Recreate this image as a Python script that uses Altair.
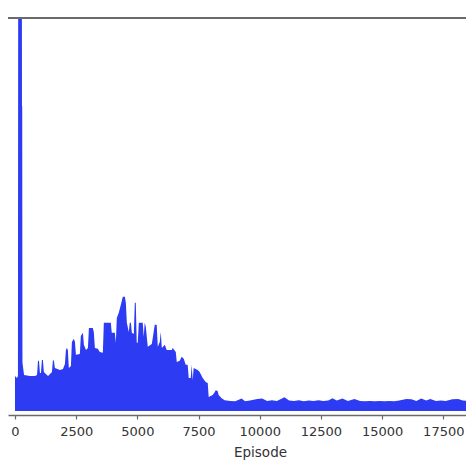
import altair as alt
import pandas as pd

# Envelope of the (dense, oscillating) training curve
EPISODES = [
    0, 80, 120, 140, 270, 285, 295, 305, 370, 610, 815, 900, 940, 980, 1020, 1060,
    1100, 1140, 1180, 1350, 1510, 1550, 1590, 1630, 1835, 1960, 2040, 2080, 2120,
    2160, 2200, 2285, 2325, 2405, 2450, 2490, 2650, 2690, 2775, 2815, 2900, 2980,
    3020, 3180, 3220, 3265, 3385, 3465, 3590, 3630, 3915, 3955, 4080, 4120, 4160,
    4240, 4325, 4405, 4490, 4530, 4570, 4650, 4690, 4735, 4775, 4855, 4895, 4935,
    4975, 5015, 5060, 5220, 5260, 5300, 5345, 5425, 5590, 5710, 5790, 5835, 5915,
    5955, 6000, 6120, 6200, 6405, 6445, 6570, 6610, 6730, 6810, 6895, 6975, 7055,
    7100, 7180, 7220, 7260, 7300, 7465, 7545, 7670, 7790, 7875, 7915, 8075, 8160,
    8200, 8280, 8320, 8445, 8565,
    8800, 9000, 9260, 9400, 9600, 9900, 10100, 10300, 10500, 10700, 10930, 11010,
    11200, 11400, 11600, 11800, 12000, 12200, 12400, 12600, 12800, 12970, 13150,
    13380, 13600, 13870, 14100, 14300, 14500, 14700, 14900, 15100, 15300, 15500,
    15700, 15990, 16200, 16400, 16600, 16800, 16970, 17200, 17400, 17600, 17870,
    18110, 18300, 18500,
]
ENVELOPE = [
    87, 82, 87, 2000, 2000, 760, 760, 120, 90, 87, 87, 90, 125, 125, 95, 95,
    127, 127, 97, 87, 97, 127, 125, 107, 102, 105, 117, 152, 157,
    152, 107, 112, 172, 180, 172, 140, 142, 187, 195, 165, 152, 157,
    207, 207, 197, 157, 155, 147, 145, 220, 220, 195, 195, 170, 232,
    245, 265, 285, 285, 270, 220, 197, 220, 220, 195, 192, 270, 270,
    170, 170, 220, 220, 185, 220, 210, 160, 167, 215, 215, 160, 172,
    197, 157, 165, 152, 152, 157, 147, 122, 125, 135, 130, 115, 115,
    82, 82, 115, 77, 107, 102, 97, 82, 72, 70, 35, 40, 47,
    52, 50, 40, 32, 27,
    25, 24, 31, 24, 26, 30, 31, 25, 27, 25, 32, 34,
    26, 25, 27, 24, 26, 25, 27, 25, 26, 32, 26,
    31, 25, 30, 25, 24, 25, 24, 25, 24, 25, 24,
    26, 30, 29, 25, 31, 26, 30, 25, 26, 25, 29,
    30, 26, 25,
]
FLOOR = 0
X_TICKS = [0, 2500, 5000, 7500, 10000, 12500, 15000, 17500]
X_DOMAIN = [-286, 18428]
Y_DOMAIN = [-10, 980]

df = pd.DataFrame({"Episode": EPISODES, "value": ENVELOPE})

W, H = 458, 397
BLUE = "#2d3cf2"
GRAY = "#6a6a6a"

area = alt.Chart(df).mark_area(color=BLUE, clip=True, opacity=1).encode(
    x=alt.X(
        "Episode:Q",
        scale=alt.Scale(domain=X_DOMAIN, nice=False, zero=False),
        axis=alt.Axis(
            values=X_TICKS, format="d", grid=False, title="Episode",
            labelFont="DejaVu Sans", labelFontSize=13, labelColor="#333333",
            labelPadding=6, labelFlush=False, labelOverlap=False,
            tickSize=4, tickColor=GRAY, tickWidth=1.2,
            domainColor=GRAY, domainWidth=1.6,
            titleFont="DejaVu Sans", titleFontSize=13.5, titleFontWeight="normal",
            titleColor="#333333", titleX=252, titleY=41,
            titleBaseline="alphabetic", titleAlign="center",
        ),
    ),
    y=alt.Y("value:Q", scale=alt.Scale(domain=Y_DOMAIN, nice=False, zero=False), axis=None),
    y2=alt.datum(FLOOR),
)

top = alt.Chart(pd.DataFrame({"k": [0]})).mark_rule(color=GRAY, strokeWidth=2).encode(
    x=alt.value(0), x2=alt.value(W), y=alt.value(0)
)

chart = alt.layer(area, top).properties(
    width=W, height=H,
    background="white",
    autosize=alt.AutoSizeParams(type="none"),
    padding={"left": 0, "top": 10, "right": 0, "bottom": 51},
).configure_view(stroke="transparent", strokeWidth=0)

chart.save("out.html", embed_options={"renderer": "svg", "actions": False})
